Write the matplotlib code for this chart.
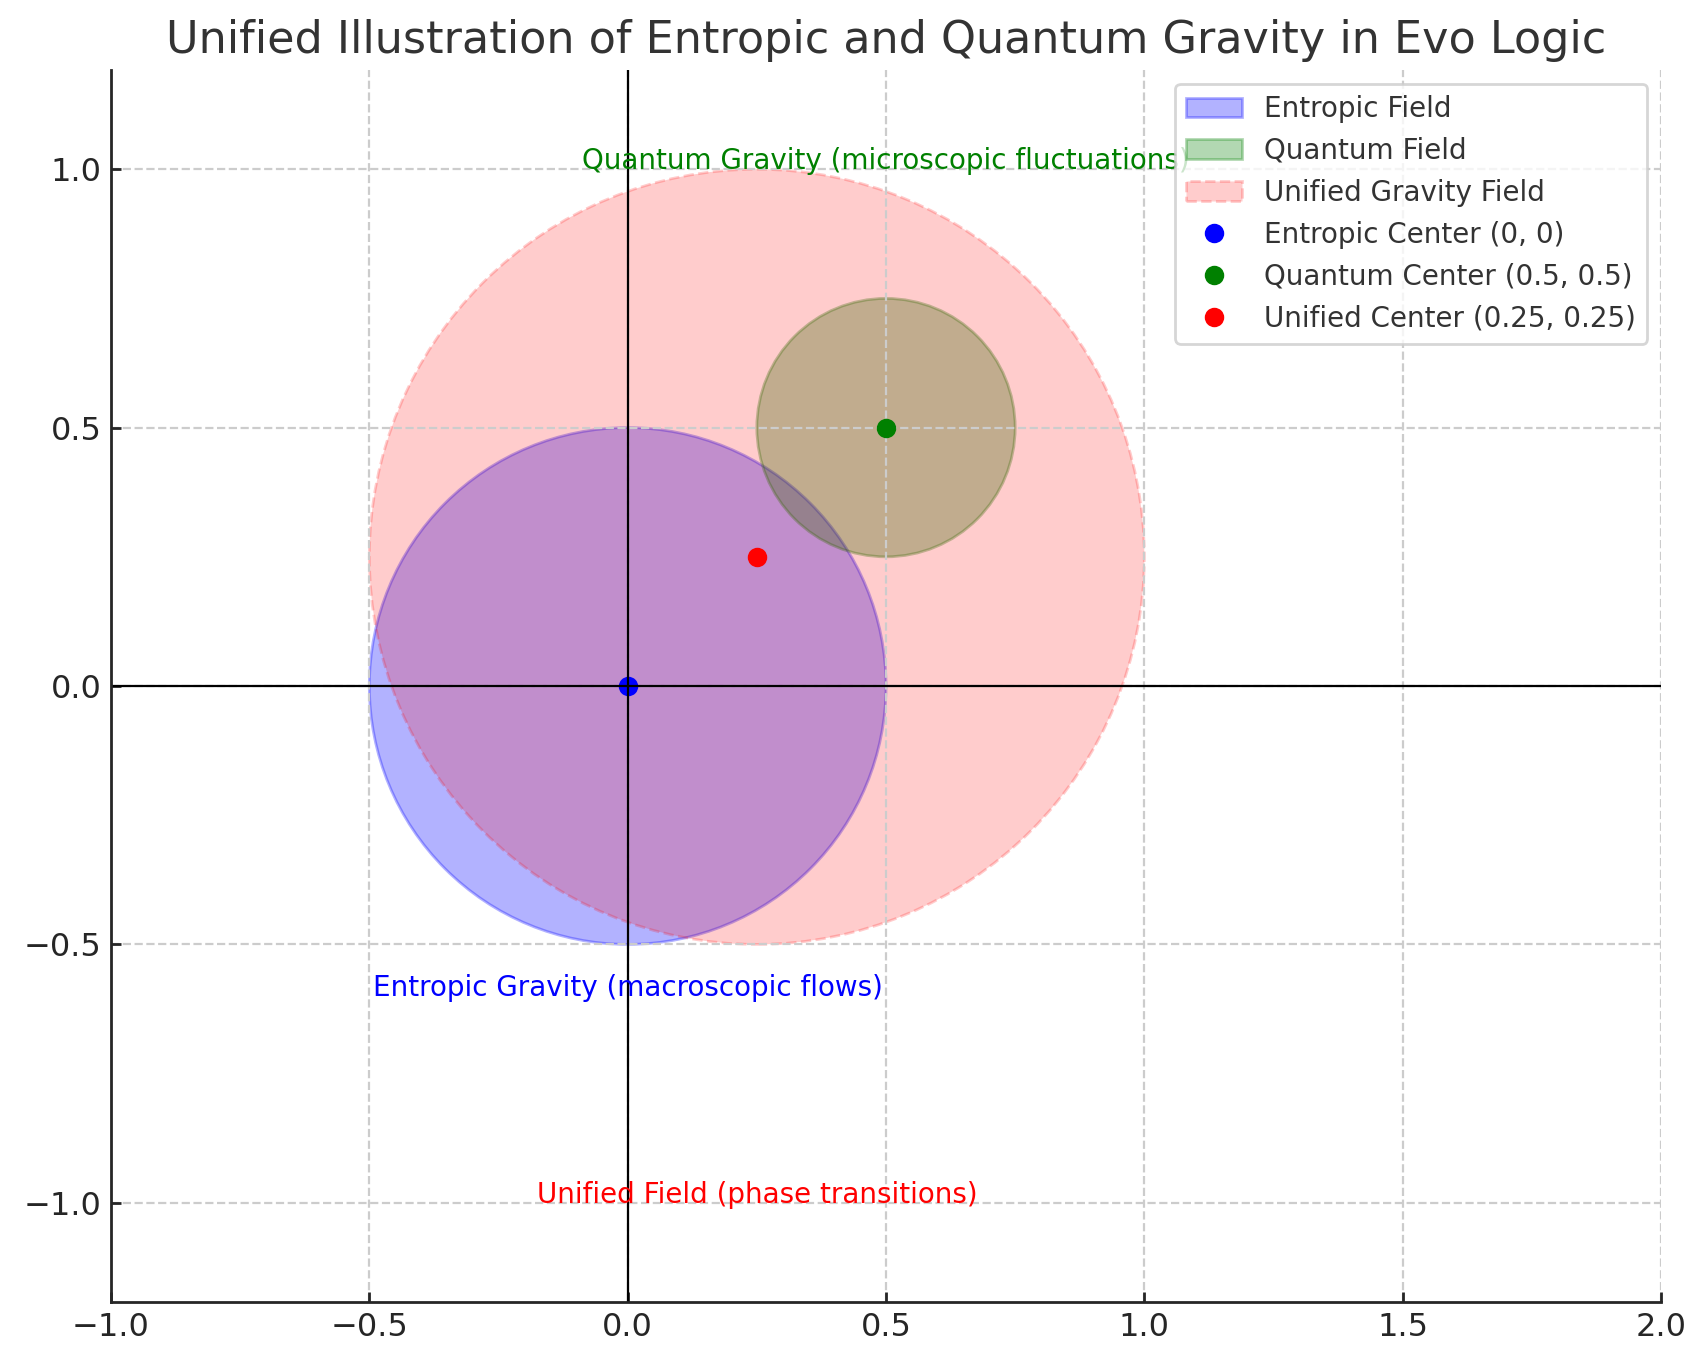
import matplotlib
matplotlib.use("Agg")
import matplotlib.pyplot as plt

# Data
field_labels = ["Entropic Field", "Quantum Field", "Unified Gravity Field"]
field_centers = [(0.0, 0.0), (0.5, 0.5), (0.25, 0.25)]
field_radii = [0.5, 0.25, 0.75]
field_colors = ["blue", "green", "red"]
field_alphas = [0.3, 0.3, 0.2]
field_styles = ["-", "-", "--"]

center_labels = ["Entropic Center (0, 0)", "Quantum Center (0.5, 0.5)", "Unified Center (0.25, 0.25)"]

annot_texts = ["Quantum Gravity (microscopic fluctuations)",
               "Entropic Gravity (macroscopic flows)",
               "Unified Field (phase transitions)"]
annot_pos = [(0.5, 1.0), (0.0, -0.6), (0.25, -1.0)]
annot_colors = ["green", "blue", "red"]

W, H, DPI = 1707, 1365, 200
fig = plt.figure(figsize=(W / DPI, H / DPI), dpi=DPI)
ax = fig.add_axes([111 / W, (H - 1302) / H, 1550 / W, 1232 / H])

for (c, r, col, a, ls, lab) in zip(field_centers, field_radii, field_colors,
                                    field_alphas, field_styles, field_labels):
    ax.add_patch(plt.Circle(c, r, color=col, alpha=a, linestyle=ls, label=lab))

for (c, col, lab) in zip(field_centers, field_colors, center_labels):
    ax.plot(c[0], c[1], "o", color=col, markersize=6, label=lab)

for (t, p, col) in zip(annot_texts, annot_pos, annot_colors):
    ax.text(p[0], p[1], t, color=col, fontsize=10, ha="center")

ax.axhline(0, color="black", linewidth=0.8)
ax.axvline(0, color="black", linewidth=0.8)

ax.set_xlim(-1, 2)
ax.set_ylim(-1.192, 1.192)
ax.set_xticks([-1.0, -0.5, 0.0, 0.5, 1.0, 1.5, 2.0])
ax.set_yticks([-1.0, -0.5, 0.0, 0.5, 1.0])
ax.grid(True, linestyle="--", color="#cccccc", linewidth=0.8)
for s in ["top", "right"]:
    ax.spines[s].set_visible(False)
for s in ["left", "bottom"]:
    ax.spines[s].set_linewidth(1.0)
    ax.spines[s].set_color("#262626")
ax.tick_params(direction="in", labelsize=11.5, colors="#262626", length=3.5, width=1.0)

ax.set_title("Unified Illustration of Entropic and Quantum Gravity in Evo Logic",
             fontsize=16, color="#333333")
leg = ax.legend(loc="upper right", fontsize=10)
for t in leg.get_texts():
    t.set_color("#333333")

fig.savefig("out.png", dpi=DPI)
